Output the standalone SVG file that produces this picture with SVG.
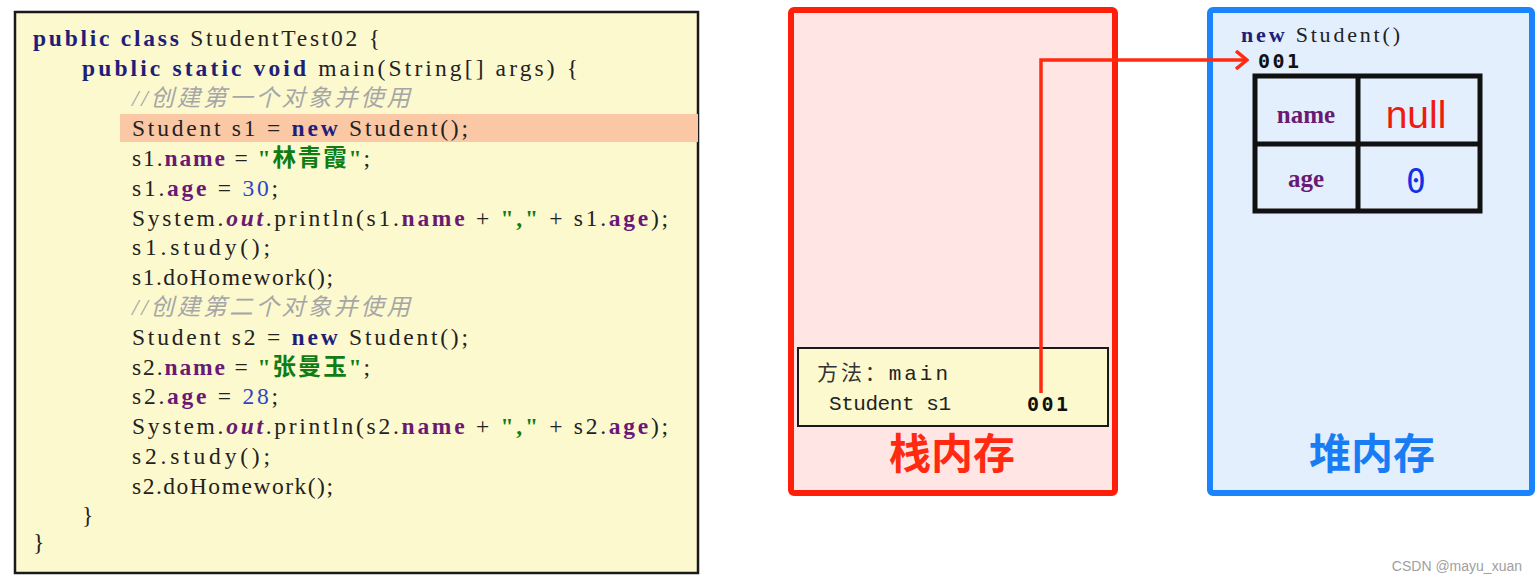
<svg xmlns="http://www.w3.org/2000/svg" width="1538" height="582" viewBox="0 0 1538 582">
<defs>
<style>
.code{font-family:"Liberation Serif","Noto Sans CJK SC",serif;font-size:23.5px;fill:#222}
.kw{font-weight:bold;fill:#1f1f7a}
.fld{font-weight:bold;fill:#6a1a72}
.str{font-weight:bold;fill:#0f7d14}
.num{fill:#2d45c8}
.cm{font-style:italic;fill:#a6a6a6}
.out{font-weight:bold;font-style:italic;fill:#6a1a72}
.mono{font-family:"Liberation Mono","DejaVu Sans Mono",monospace;fill:#222}
.addr{font-family:"DejaVu Sans Mono","Liberation Mono",monospace;font-weight:bold;font-size:20px;fill:#111}
.big{font-family:"Noto Sans CJK SC",sans-serif;font-weight:bold;font-size:42px;text-anchor:middle}
.cell{font-family:"Liberation Serif",serif;font-weight:bold;font-size:25px;fill:#6a1a72;text-anchor:middle}
</style>
<marker id="arr" viewBox="0 0 14 20" refX="12" refY="10" markerWidth="14" markerHeight="20" markerUnits="userSpaceOnUse" orient="auto">
<path d="M1,1 L12,10 L1,19" fill="none" stroke="#ff2a10" stroke-width="3.5"/>
</marker>
</defs>
<rect width="1538" height="582" fill="#ffffff"/>

<g id="code">
<rect x="15" y="12" width="683" height="561" fill="#fcf9cf" stroke="#1a1a1a" stroke-width="2.5"/>
<rect x="120" y="114" width="578" height="28" fill="#fbc8a6"/>
<text class="code" x="33" y="46" textLength="347"><tspan class="kw">public class</tspan> StudentTest02 {</text>
<text class="code" x="82" y="76" textLength="496"><tspan class="kw">public static void</tspan> main(String[] args) {</text>
<text class="code" x="132" y="106" textLength="278"><tspan class="cm">//创建第一个对象并使用</tspan></text>
<text class="code" x="132" y="136" textLength="336">Student s1 = <tspan class="kw">new</tspan> Student();</text>
<text class="code" x="132" y="166" textLength="238">s1.<tspan class="fld">name</tspan> = <tspan class="str">"林青霞"</tspan>;</text>
<text class="code" x="132" y="196" textLength="146">s1.<tspan class="fld">age</tspan> = <tspan class="num">30</tspan>;</text>
<text class="code" x="132" y="226" textLength="536">System.<tspan class="out">out</tspan>.println(s1.<tspan class="fld">name</tspan> + <tspan class="str">","</tspan> + s1.<tspan class="fld">age</tspan>);</text>
<text class="code" x="132" y="255" textLength="138">s1.study();</text>
<text class="code" x="132" y="285" textLength="201">s1.doHomework();</text>
<text class="code" x="132" y="315" textLength="278"><tspan class="cm">//创建第二个对象并使用</tspan></text>
<text class="code" x="132" y="345" textLength="336">Student s2 = <tspan class="kw">new</tspan> Student();</text>
<text class="code" x="132" y="375" textLength="238">s2.<tspan class="fld">name</tspan> = <tspan class="str">"张曼玉"</tspan>;</text>
<text class="code" x="132" y="404" textLength="146">s2.<tspan class="fld">age</tspan> = <tspan class="num">28</tspan>;</text>
<text class="code" x="132" y="434" textLength="536">System.<tspan class="out">out</tspan>.println(s2.<tspan class="fld">name</tspan> + <tspan class="str">","</tspan> + s2.<tspan class="fld">age</tspan>);</text>
<text class="code" x="132" y="464" textLength="138">s2.study();</text>
<text class="code" x="132" y="494" textLength="201">s2.doHomework();</text>
<text class="code" x="82" y="523">}</text>
<text class="code" x="33" y="550">}</text>
</g>

<g id="stack">
<rect x="791" y="10" width="324" height="483" rx="3" fill="#ffe5e3" stroke="#ff1e0a" stroke-width="6"/>
<text class="big" x="952" y="469" fill="#ff2a10">栈内存</text>
</g>

<g id="frame-main">
<rect x="798" y="348" width="310" height="78" fill="#fcf9cf" stroke="#1a1a1a" stroke-width="2"/>
<text x="817" y="380" textLength="131" style="font-size:21px"><tspan style="font-family:'Noto Sans CJK SC',sans-serif;fill:#333">方法：</tspan><tspan class="mono">main</tspan></text>
<text class="mono" x="829" y="410" textLength="122" style="font-size:21px">Student s1</text>
<text class="addr" x="1027" y="411" textLength="41">001</text>
</g>

<g id="heap">
<rect x="1210" y="10" width="322" height="483" rx="3" fill="#e3effc" stroke="#1a84ff" stroke-width="6"/>
<text class="big" x="1372" y="469" fill="#1a7cf5">堆内存</text>
</g>

<g id="student-object">
<text class="code" x="1241" y="42" textLength="159" style="font-size:22px"><tspan class="kw">new</tspan> Student()</text>
<text class="addr" x="1258" y="68" textLength="41">001</text>
<rect x="1255" y="76" width="225" height="135" fill="none" stroke="#111" stroke-width="5"/>
<line x1="1358" y1="76" x2="1358" y2="211" stroke="#111" stroke-width="5"/>
<line x1="1255" y1="144" x2="1480" y2="144" stroke="#111" stroke-width="5"/>
<text class="cell" x="1306" y="123">name</text>
<text class="cell" x="1306" y="187">age</text>
<text x="1416" y="128" text-anchor="middle" style="font-family:'Liberation Sans',sans-serif;font-size:39px;fill:#ee1c10">null</text>
<text x="1416" y="193" text-anchor="middle" style="font-family:'DejaVu Sans Mono',monospace;font-size:33px;fill:#1430e6">0</text>
</g>

<g id="connectors">
<path d="M1041,393 V60 H1247" fill="none" stroke="#ff2a10" stroke-width="3.5" marker-end="url(#arr)"/>
</g>

<text x="1522" y="571" text-anchor="end" style="font-family:'Liberation Sans',sans-serif;font-size:14px;fill:#a0a0a0">CSDN @mayu_xuan</text>
</svg>
